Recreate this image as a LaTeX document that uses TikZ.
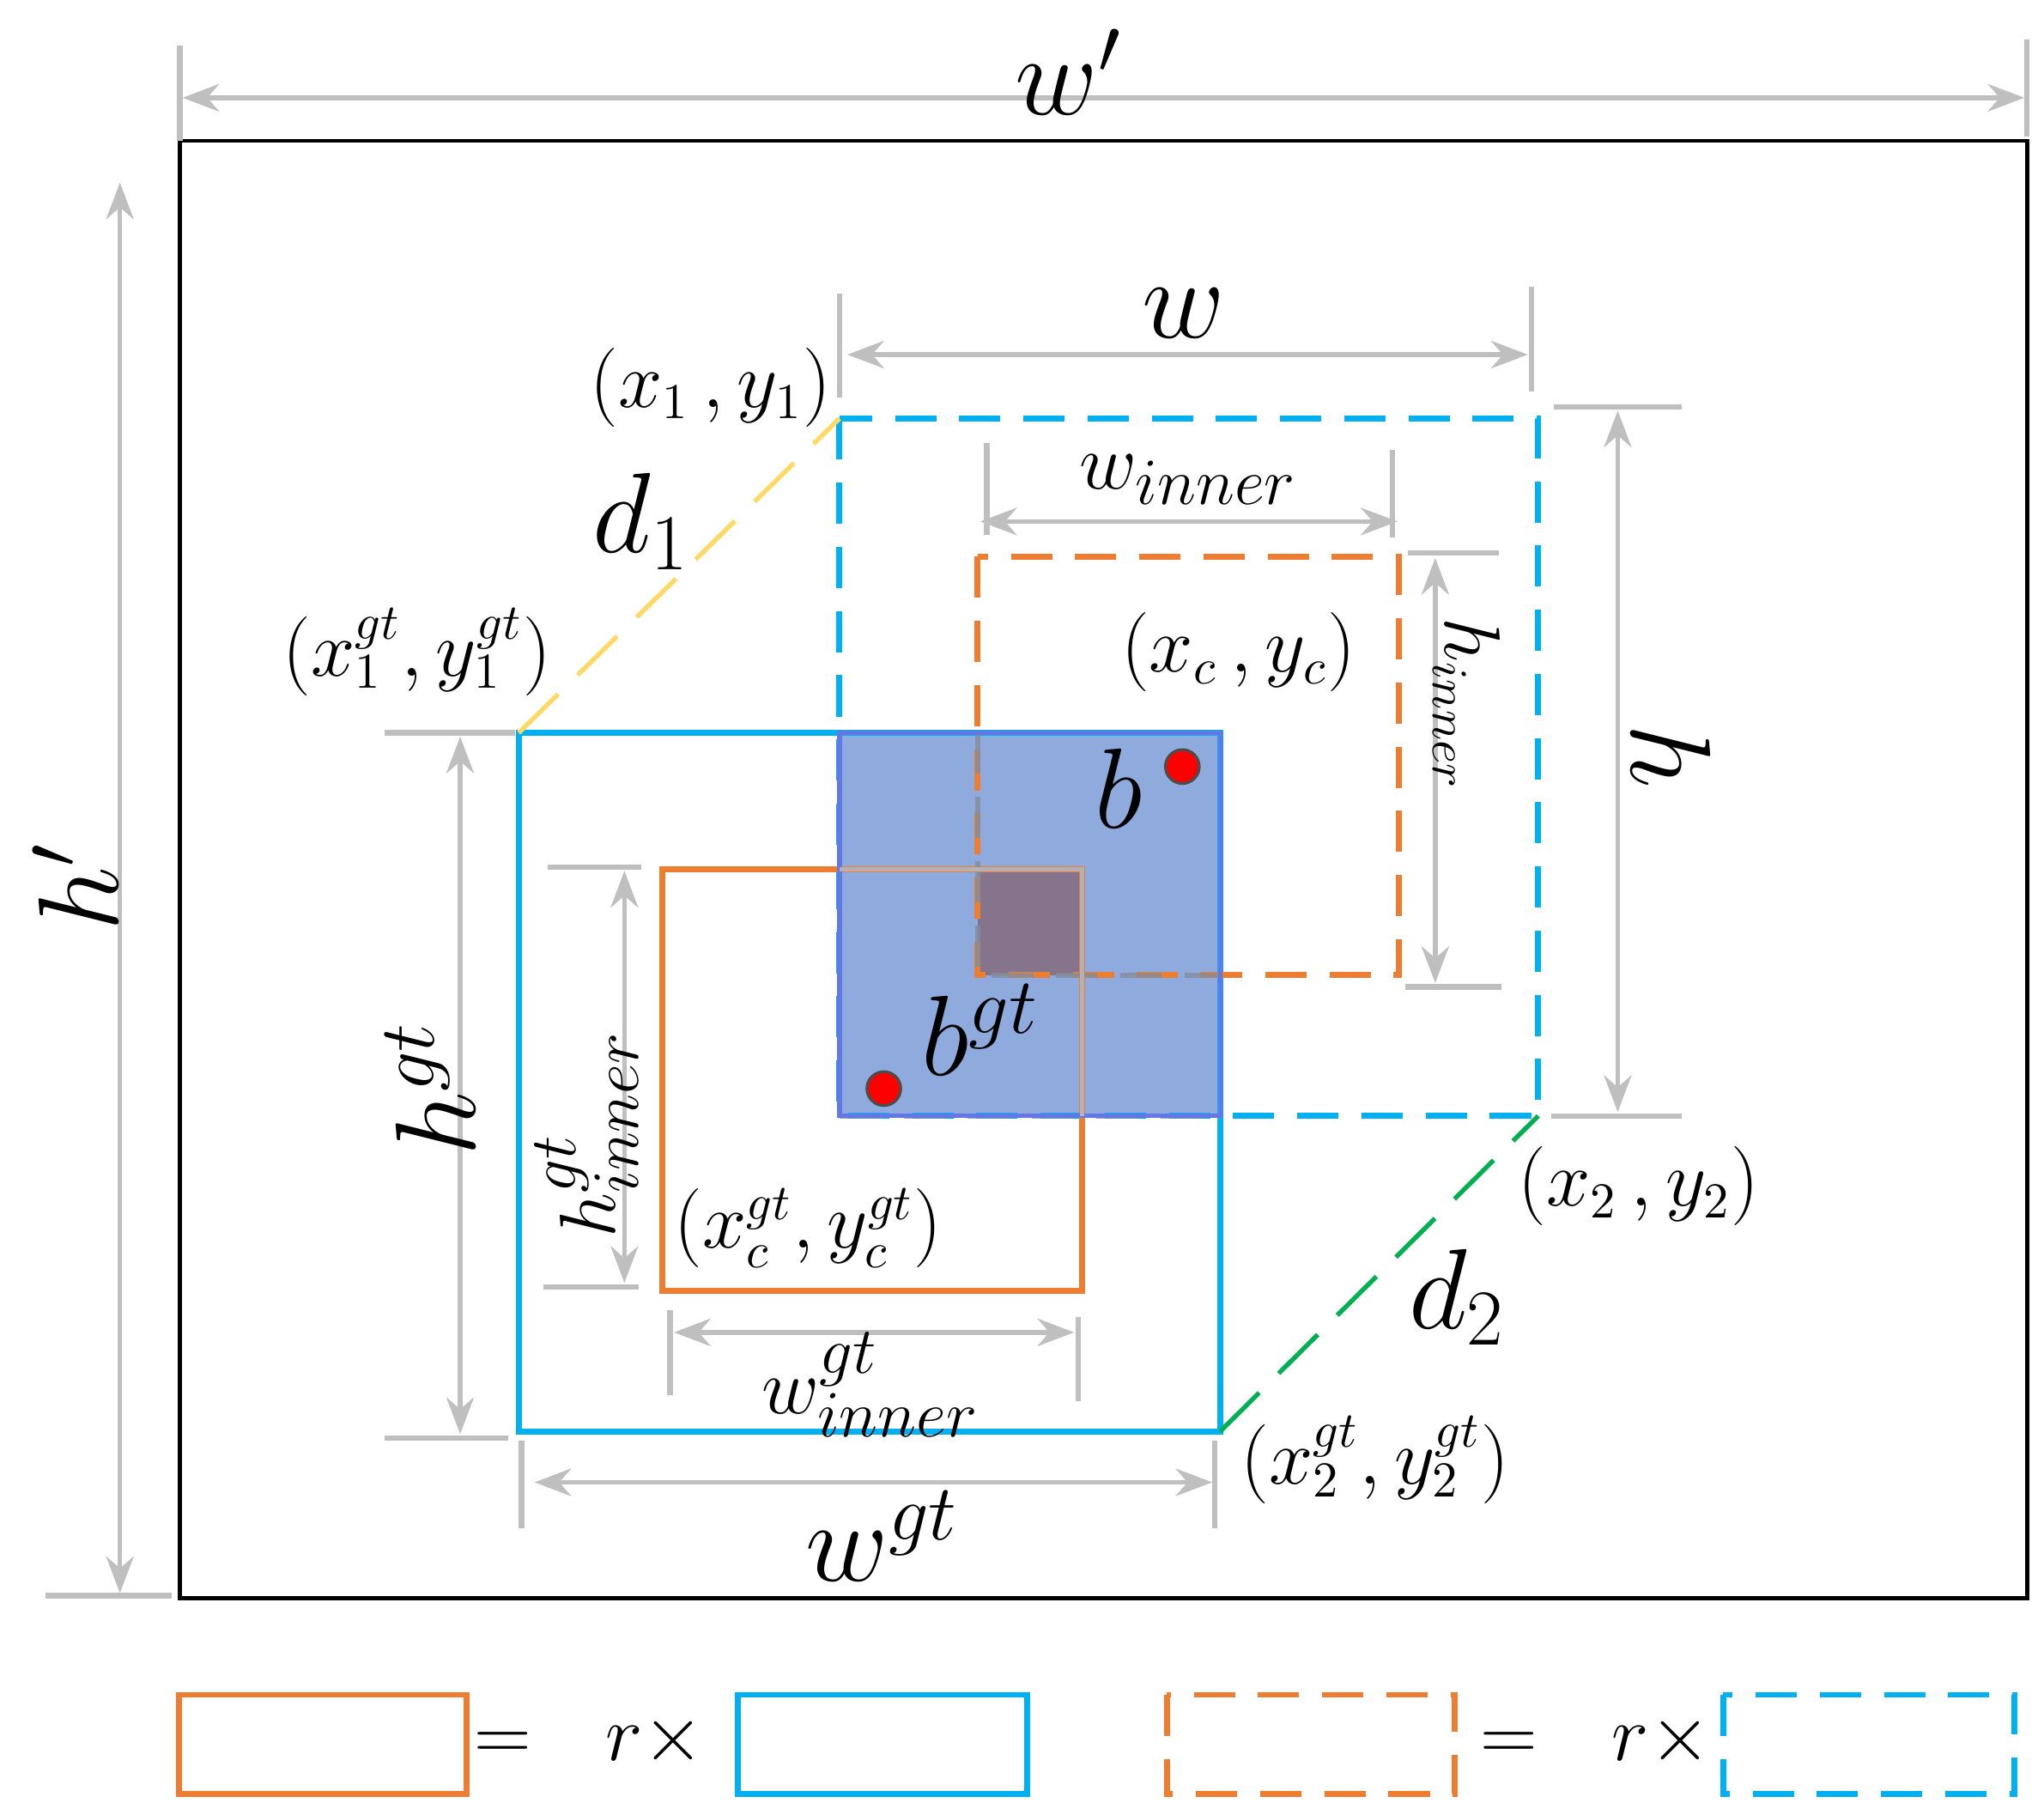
\documentclass[tikz,border=0pt]{standalone}
\usetikzlibrary{arrows.meta}
\definecolor{cblue}{RGB}{0,176,240}
\definecolor{corange}{RGB}{237,125,49}
\definecolor{cgray}{RGB}{191,191,191}
\definecolor{cfill}{RGB}{143,170,220}
\definecolor{cin}{RGB}{134,116,140}
\definecolor{cyel}{RGB}{255,217,102}
\definecolor{cgreen}{RGB}{0,176,80}
\begin{document}
\begin{tikzpicture}[x=0.01cm,y=-0.01cm,
  dim/.style={cgray,line width=1pt,{Stealth[length=8pt,width=6pt]}-{Stealth[length=8pt,width=6pt]}},
  tick/.style={cgray,line width=1.2pt},
  bx/.style={line width=1.3pt},
  dsh/.style={dash pattern=on 9pt off 5pt},
  lab/.style={font=\fontsize{16}{19}\selectfont, inner sep=0pt},
  mid/.style={font=\fontsize{19}{22}\selectfont, inner sep=0pt},
  big/.style={font=\fontsize{24}{28}\selectfont, inner sep=0pt}]
\useasboundingbox (0,0) rectangle (1568,1392);
% outer frame
\draw[line width=0.9pt] (138,108) rectangle (1555,1226);
% w'
\draw[tick] (138,35) -- (138,108); \draw[tick] (1555,30) -- (1555,105);
\coordinate (wpa) at (140,75); \coordinate (wpb) at (1553,75);
\draw[dim] (wpa) -- (wpb);
\node[big] (wp) at (820,55) {$w'$};
% h'
\draw[tick] (35,1224) -- (132,1224);
\coordinate (hpa) at (92,140); \coordinate (hpb) at (92,1222);
\draw[dim] (hpa) -- (hpb);
\node[big,rotate=90] (hp) at (58,680) {$h'$};
% fills
\fill[cfill] (644,562) rectangle (936,856);
\fill[cin] (750,667) rectangle (830,748);
% boxes
\draw[bx,cblue,dsh] (644,321) rectangle (1180,856);
\draw[bx,cblue] (398,562) rectangle (936,1098);
\draw[bx,corange,dsh] (750,427) rectangle (1073,748);
\draw[bx,corange] (508,667) rectangle (830,990);
\draw[line width=1.2pt,gray!70!cfill,opacity=0.8,dsh] (750,562) -- (750,748) -- (936,748);
\draw[line width=1.2pt,gray!70!cfill,opacity=0.8,dsh] (644,856) -- (936,856);
\draw[line width=1pt,cfill!70!blue] (644,562) rectangle (936,856);
\draw[line width=1pt,cgray!80!cin] (644,667) -- (830,667) -- (830,856);
% diagonals
\coordinate (p1) at (398,562); \coordinate (q1) at (644,321);
\coordinate (p2) at (936,1098); \coordinate (q2) at (1180,856);
\draw[cyel,line width=1pt,dash pattern=on 12pt off 6pt] (p1) -- (q1);
\draw[cgreen,line width=1pt,dash pattern=on 12pt off 6pt] (p2) -- (q2);
% dots
\fill[red,draw=black!70,line width=0.6pt] (907,588) circle (13);
\fill[red,draw=black!70,line width=0.6pt] (678,835) circle (13);
% w
\draw[tick] (644,225) -- (644,305); \draw[tick] (1175,220) -- (1175,300);
\draw[dim] (650,272) -- (1172,272);
\node[big] (w) at (908,240) {$w$};
% w inner
\draw[tick] (757,340) -- (757,410); \draw[tick] (1068,345) -- (1068,412);
\draw[dim] (752,400) -- (1072,400);
\node[mid] (wi) at (912,368) {$w_{inner}$};
% h
\draw[tick] (1192,312) -- (1290,312); \draw[tick] (1190,856) -- (1290,856);
\draw[dim] (1241,315) -- (1241,853);
\node[big,rotate=-90] (h) at (1282,580) {$h$};
% h inner
\draw[tick] (1080,424) -- (1150,424); \draw[tick] (1078,757) -- (1152,757);
\draw[dim] (1101,428) -- (1101,754);
\node[lab,rotate=-90] (hi) at (1125,540) {$h_{inner}$};
% h gt
\draw[tick] (295,562) -- (395,562); \draw[tick] (295,1103) -- (390,1103);
\draw[dim] (353,565) -- (353,1100);
\node[big,rotate=90] (hg) at (330,835) {$h^{gt}$};
% h gt inner
\draw[tick] (420,665) -- (492,665); \draw[tick] (417,987) -- (490,987);
\draw[dim] (479,668) -- (479,984);
\node[mid,rotate=90] (hgi) at (450,870) {$h^{gt}_{inner}$};
% w gt inner
\draw[tick] (514,1005) -- (514,1070); \draw[tick] (827,1010) -- (827,1075);
\draw[dim] (517,1022) -- (824,1022);
\node[mid] (wgi) at (668,1062) {$w^{gt}_{inner}$};
% w gt
\draw[tick] (400,1105) -- (400,1172); \draw[tick] (932,1105) -- (932,1172);
\draw[dim] (410,1137) -- (930,1137);
\node[big] (wg) at (677,1178) {$w^{gt}$};
% coordinate labels
\node[lab] (c1) at (545,297) {$\Bigl(x_1\,,y_1\Bigr)$};
\node[lab] (c1g) at (320,500) {$\Bigl(x_1^{gt},y_1^{gt}\Bigr)$};
\node[lab] (cc) at (950,500) {$\Bigl(x_c\,,y_c\Bigr)$};
\node[lab] (c2) at (1257,910) {$\Bigl(x_2\,,y_2\Bigr)$};
\node[lab] (ccg) at (620,942) {$\Bigl(x_c^{gt},y_c^{gt}\Bigr)$};
\node[lab] (c2g) at (1055,1120) {$\Bigl(x_2^{gt},y_2^{gt}\Bigr)$};
\node[big] (b) at (858,605) {$b$};
\node[big] (bg) at (752,790) {$b^{gt}$};
\node[big] (d1) at (492,400) {$d_1$};
\node[big] (d2) at (1118,995) {$d_2$};
% legend
\draw[bx,corange] (137,1300) rectangle (358,1376);
\node[mid] (eq1) at (452,1335) {$=\ \ r\times$};
\draw[bx,cblue] (566,1300) rectangle (788,1376);
\draw[bx,corange,dsh] (895,1300) rectangle (1116,1376);
\node[mid] (eq2) at (1224,1335) {$=\ \ r\times$};
\draw[bx,cblue,dsh] (1322,1300) rectangle (1545,1376);
\end{tikzpicture}
\end{document}
